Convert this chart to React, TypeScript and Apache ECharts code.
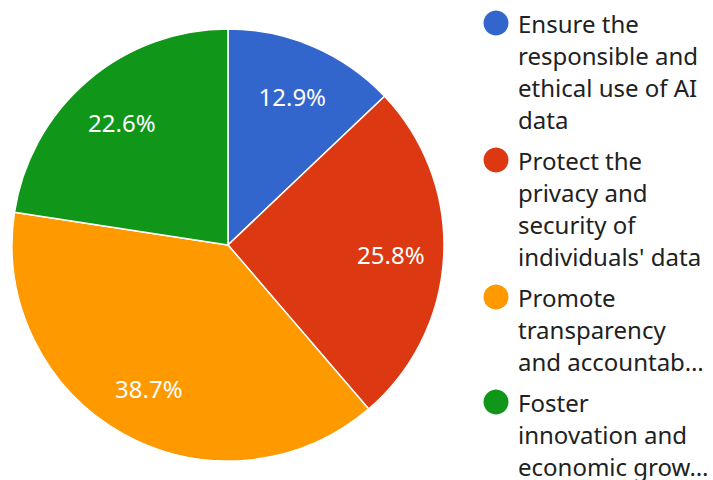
import React, { useEffect, useRef } from "react";
import * as echarts from "echarts";

const categories = [
  "Ensure the responsible and ethical use of AI data",
  "Protect the privacy and security of individuals' data",
  "Promote transparency and accountab…",
  "Foster innovation and economic grow…",
];
const legendLines = [
  ["Ensure the", "responsible and", "ethical use of AI", "data"],
  ["Protect the", "privacy and", "security of", "individuals' data"],
  ["Promote", "transparency", "and accountab…"],
  ["Foster", "innovation and", "economic grow…"],
];
const values = [4, 8, 12, 7];
const colors = ["#3366cc", "#dc3912", "#ff9900", "#109618"];

const FONT = '"Noto Sans", "Open Sans", sans-serif';

export default function App() {
  const ref = useRef<HTMLDivElement>(null);
  useEffect(() => {
    document.body.style.margin = "0";
    const chart = echarts.init(ref.current!, null, { renderer: "svg" });
    const lh = 32;
    const gap = 9;
    let cy = 23;
    const graphics: any[] = [];
    legendLines.forEach((lines, i) => {
      graphics.push({
        type: "circle",
        shape: { cx: 496, cy, r: 12.5 },
        style: { fill: colors[i] },
        silent: true,
      });
      lines.forEach((line, j) => {
        graphics.push({
          type: "text",
          x: 518,
          y: cy + j * lh,
          style: {
            text: line,
            fontSize: 24,
            fontFamily: FONT,
            lineHeight: 26,
            fill: "#212121",
            verticalAlign: "middle",
            align: "left",
          },
          silent: true,
        });
      });
      cy += lines.length * lh + gap;
    });
    const data = categories.map((name, i) => ({
      name,
      value: values[i],
      itemStyle: { color: colors[i] },
    }));
    chart.setOption({
      animation: false,
      graphic: graphics,
      series: [
        {
          type: "pie",
          center: [228, 245],
          radius: [0, 216],
          startAngle: 90,
          clockwise: true,
          percentPrecision: 1,
          label: { show: false },
          labelLine: { show: false },
          itemStyle: { borderColor: "#ffffff", borderWidth: 1.5 },
          emphasis: { disabled: true },
          data,
        },
        {
          type: "pie",
          center: [228, 246],
          radius: [104, 216],
          startAngle: 90,
          clockwise: true,
          percentPrecision: 1,
          silent: true,
          label: {
            show: true,
            position: "inner",
            formatter: "{d}%",
            color: "#ffffff",
            fontSize: 24,
            fontFamily: FONT,
          },
          labelLine: { show: false },
          itemStyle: { color: "transparent", borderWidth: 0 },
          emphasis: { disabled: true },
          data: categories.map((name, i) => ({ name, value: values[i] })),
        },
      ],
    });
    return () => chart.dispose();
  }, []);
  return <div ref={ref} style={{ width: 713, height: 480 }} />;
}
